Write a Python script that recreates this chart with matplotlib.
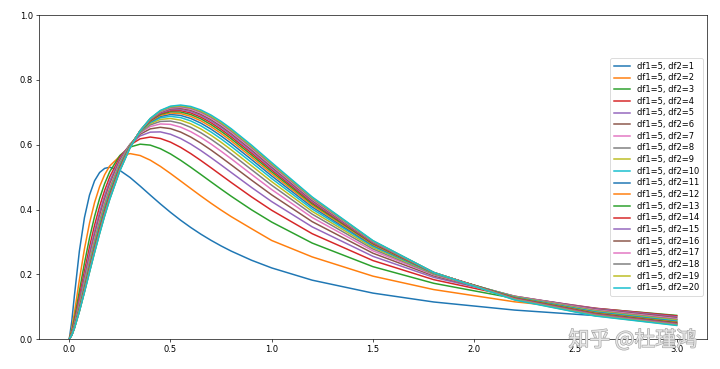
import matplotlib
matplotlib.use("Agg")
import matplotlib.pyplot as plt
import matplotlib.patheffects as pe

# x positions
x_vals = [0, 0.0125, 0.025, 0.05, 0.075, 0.1, 0.125, 0.15, 0.175, 0.2, 0.25, 0.3,
          0.35, 0.4, 0.45, 0.5, 0.55, 0.6, 0.65, 0.7, 0.75, 0.8, 0.9, 1.0, 1.2,
          1.5, 1.8, 2.2, 2.6, 3.0]

df1 = 5
df2_values = list(range(1, 21))

f_df2_1 = [0, .0553, .1317, .2716, .3749, .4446, .4887, .5143, .5270, .5305, .5207, .4990, .4724, .4446, .4173, .3913, .3670, .3446, .3239, .3050, .2876, .2716, .2435, .2197, .1819, .1420, .1146, .0896, .0725, .0602]
f_df2_2 = [0, .0310, .0790, .1829, .2781, .3578, .4215, .4708, .5078, .5346, .5646, .5726, .5667, .5524, .5332, .5112, .4881, .4648, .4418, .4195, .3982, .3780, .3409, .3044, .2537, .1943, .1529, .1151, .0897, .0717]
f_df2_3 = [0, .0235, .0613, .1483, .2342, .3118, .3786, .4346, .4803, .5169, .5668, .5928, .6017, .5988, .5878, .5716, .5520, .5305, .5081, .4854, .4629, .4409, .3992, .3612, .2964, .2236, .1723, .1257, .0946, .0732]
f_df2_4 = [0, .0199, .0526, .1301, .2098, .2845, .3515, .4098, .4594, .5009, .5620, .5992, .6182, .6237, .6193, .6080, .5919, .5726, .5513, .5290, .5062, .4834, .4391, .3976, .3253, .2424, .1835, .1303, .0953, .0716]
f_df2_5 = [0, .0178, .0475, .1190, .1943, .2667, .3331, .3923, .4439, .4882, .5563, .6010, .6272, .6388, .6396, .6323, .6192, .6020, .5820, .5602, .5375, .5143, .4683, .4244, .3464, .2555, .1906, .1321, .0942, .0689]
f_df2_6 = [0, .0165, .0440, .1115, .1837, .2541, .3198, .3794, .4321, .4782, .5510, .6011, .6324, .6489, .6537, .6497, .6391, .6237, .6049, .5838, .5612, .5379, .4908, .4451, .3625, .2651, .1952, .1325, .0923, .0660]
f_df2_7 = [0, .0155, .0416, .1061, .1759, .2448, .3099, .3695, .4230, .4702, .5463, .6004, .6358, .6560, .6641, .6628, .6543, .6404, .6227, .6022, .5799, .5566, .5086, .4615, .3753, .2724, .1984, .1322, .0903, .0632]
f_df2_8 = [0, .0148, .0398, .1020, .1700, .2377, .3021, .3617, .4156, .4636, .5423, .5994, .6380, .6612, .6719, .6729, .6662, .6537, .6369, .6171, .5951, .5717, .5232, .4749, .3856, .2781, .2005, .1315, .0882, .0605]
f_df2_9 = [0, .0143, .0385, .0989, .1653, .2320, .2959, .3554, .4096, .4583, .5388, .5983, .6395, .6651, .6781, .6810, .6758, .6646, .6486, .6293, .6076, .5843, .5353, .4860, .3942, .2827, .2021, .1306, .0861, .0581]
f_df2_10 = [0, .0138, .0373, .0963, .1616, .2274, .2908, .3502, .4046, .4537, .5358, .5973, .6405, .6683, .6831, .6876, .6838, .6735, .6584, .6395, .6181, .5948, .5455, .4955, .4014, .2865, .2032, .1296, .0842, .0558]
f_df2_11 = [0, .0135, .0364, .0943, .1585, .2236, .2866, .3458, .4004, .4499, .5332, .5962, .6413, .6708, .6873, .6931, .6905, .6811, .6666, .6482, .6270, .6039, .5543, .5036, .4076, .2896, .2040, .1286, .0824, .0538]
f_df2_12 = [0, .0132, .0357, .0925, .1559, .2204, .2830, .3421, .3968, .4466, .5308, .5953, .6418, .6728, .6907, .6978, .6962, .6876, .6737, .6557, .6347, .6117, .5619, .5106, .4129, .2922, .2046, .1276, .0807, .0520]
f_df2_13 = [0, .0129, .0351, .0910, .1537, .2176, .2799, .3390, .3937, .4437, .5288, .5944, .6422, .6745, .6936, .7018, .7010, .6932, .6799, .6622, .6415, .6185, .5685, .5167, .4176, .2945, .2050, .1266, .0791, .0504]
f_df2_14 = [0, .0127, .0345, .0898, .1518, .2153, .2773, .3362, .3910, .4412, .5270, .5936, .6425, .6760, .6961, .7052, .7053, .6981, .6852, .6680, .6474, .6245, .5744, .5222, .4217, .2964, .2053, .1257, .0777, .0489]
f_df2_15 = [0, .0126, .0341, .0887, .1502, .2132, .2750, .3338, .3886, .4390, .5254, .5929, .6428, .6772, .6983, .7082, .7090, .7024, .6900, .6730, .6527, .6298, .5796, .5270, .4253, .2981, .2055, .1247, .0764, .0475]
f_df2_16 = [0, .0124, .0336, .0877, .1487, .2114, .2729, .3316, .3865, .4370, .5239, .5922, .6429, .6782, .7002, .7109, .7123, .7063, .6942, .6775, .6573, .6346, .5843, .5313, .4285, .2996, .2057, .1239, .0752, .0462]
f_df2_17 = [0, .0123, .0333, .0869, .1474, .2098, .2711, .3297, .3846, .4352, .5226, .5915, .6431, .6792, .7019, .7133, .7153, .7097, .6980, .6816, .6616, .6389, .5885, .5352, .4315, .3010, .2058, .1231, .0740, .0451]
f_df2_18 = [0, .0121, .0330, .0861, .1463, .2083, .2695, .3280, .3829, .4336, .5214, .5909, .6432, .6800, .7034, .7154, .7179, .7128, .7014, .6853, .6654, .6427, .5923, .5387, .4341, .3021, .2058, .1223, .0730, .0441]
f_df2_19 = [0, .0120, .0327, .0855, .1453, .2071, .2680, .3265, .3814, .4322, .5204, .5904, .6432, .6807, .7047, .7173, .7203, .7156, .7045, .6886, .6688, .6462, .5957, .5419, .4365, .3032, .2058, .1215, .0720, .0431]
f_df2_20 = [0, .0119, .0324, .0849, .1444, .2059, .2667, .3251, .3800, .4309, .5194, .5899, .6433, .6813, .7059, .7190, .7225, .7181, .7074, .6916, .6720, .6494, .5989, .5449, .4387, .3041, .2058, .1208, .0711, .0422]

series = [f_df2_1, f_df2_2, f_df2_3, f_df2_4, f_df2_5, f_df2_6, f_df2_7,
          f_df2_8, f_df2_9, f_df2_10, f_df2_11, f_df2_12, f_df2_13, f_df2_14,
          f_df2_15, f_df2_16, f_df2_17, f_df2_18, f_df2_19, f_df2_20]

fig = plt.figure(figsize=(12, 6.15), dpi=60)
ax = fig.add_axes([0.054, 0.081, 0.928, 0.878])

for d2, y in zip(df2_values, series):
    ax.plot(x_vals, y, label=f"df1={df1}, df2={d2}", linewidth=1.8,
            solid_joinstyle="round")

ax.set_ylim(0, 1.0)
ax.legend(loc="center right", labelspacing=0.32)

fig.text(0.879, 0.078, "知乎 @杜瑾鸿", ha="center", va="center", fontsize=25,
         color="#e6e6e6",
         family=["Noto Sans CJK SC", "DejaVu Sans"],
         path_effects=[pe.withStroke(linewidth=1.6, foreground="#a8a8a8")])

fig.savefig("out.png", dpi=60)
